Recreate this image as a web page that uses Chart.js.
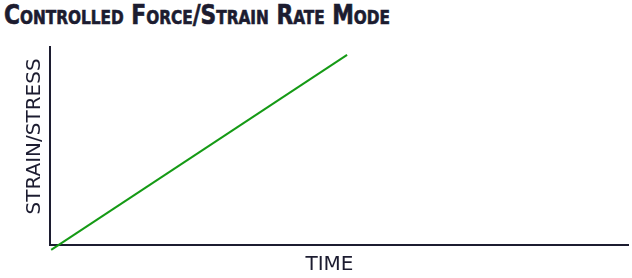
<!DOCTYPE html>
<html>
<head>
<meta charset="utf-8">
<script src="https://cdn.jsdelivr.net/npm/chart.js@4"></script>
<style>
  html, body { margin: 0; padding: 0; background: #ffffff; }
  #wrap { position: relative; width: 632px; height: 278px; }
  #title {
    position: absolute; left: 4px; top: -2px;
    font-family: "Liberation Sans Narrow", "DejaVu Sans Condensed", sans-serif;
    font-weight: bold; font-size: 27px; line-height: 34px; font-variant: small-caps;
    color: #1c1c30; white-space: nowrap;
    -webkit-text-stroke: 0.6px #1c1c30;
    transform-origin: 0 0;
  }
  canvas { position: absolute; left: 0; top: 0; }
</style>
</head>
<body>
<div id="wrap">
  <div id="title">Controlled Force/Strain Rate Mode</div>
  <canvas id="chart-rate" width="632" height="278"></canvas>
</div>
<script>
// Dados
const timeValues = [0.002, 0.514];
const strainValues = [-0.025, 0.96];
const xAxisLabel = 'TIME\u00a0\u00a0\u00a0';
const yAxisLabel = '\u00a0\u00a0\u00a0STRAIN/STRESS';

const navy = '#1c1c30';

// Ajustar largura do título
const titleEl = document.getElementById('title');
const titleWidth = titleEl.getBoundingClientRect().width;
titleEl.style.transform = 'scaleX(' + (386 / titleWidth) + ')';

const ctx = document.getElementById('chart-rate');
new Chart(ctx, {
    type: 'line',
    data: {
        datasets: [{
            data: timeValues.map((t, i) => ({ x: t, y: strainValues[i] })),
            borderColor: '#159a15',
            borderWidth: 2,
            pointRadius: 0,
            fill: false,
            clip: false,
            tension: 0
        }]
    },
    options: {
        responsive: false,
        animation: false,
        layout: { padding: { top: 47, right: 4, bottom: 0, left: 0 } },
        plugins: {
            legend: { display: false },
            tooltip: { enabled: false }
        },
        scales: {
            x: {
                type: 'linear',
                min: 0,
                max: 1,
                grid: { display: false, drawTicks: false },
                ticks: { display: false },
                border: { color: navy, width: 2 },
                title: {
                    display: true,
                    text: xAxisLabel,
                    color: navy,
                    font: { family: 'DejaVu Sans', size: 20 },
                    padding: { top: 8, bottom: 1 }
                }
            },
            y: {
                min: 0,
                max: 1,
                grid: { display: false, drawTicks: false },
                ticks: { display: false },
                border: { color: navy, width: 2 },
                title: {
                    display: true,
                    text: yAxisLabel,
                    color: navy,
                    font: { family: 'DejaVu Sans', size: 20 },
                    padding: { top: 23, bottom: 3 }
                }
            }
        }
    }
});
</script>
</body>
</html>
